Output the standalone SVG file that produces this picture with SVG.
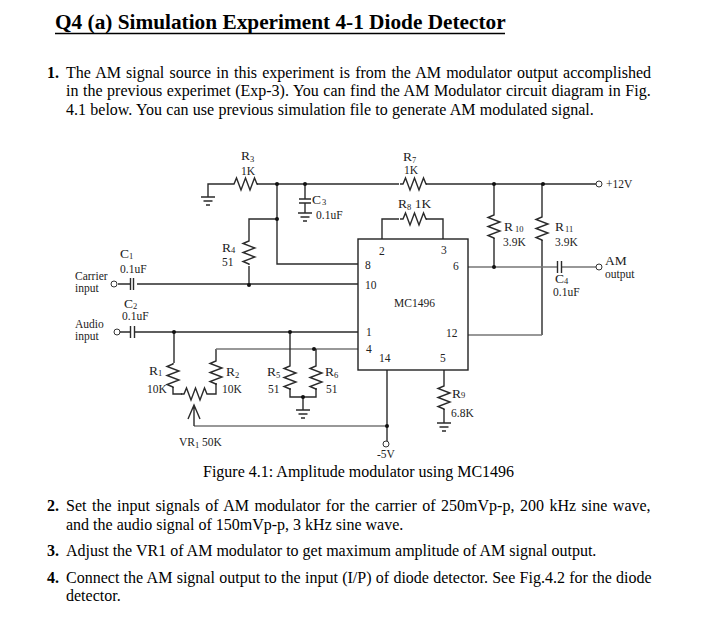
<svg xmlns="http://www.w3.org/2000/svg" width="707" height="640" viewBox="0 0 707 640">
<style>
text{font-family:"Liberation Serif","Times New Roman",serif;fill:#222}
.b{font-size:16px;fill:#000}
.t{font-size:21.3px;font-weight:bold;fill:#000}
.n{font-weight:bold;font-size:16px;fill:#000}
.l{font-size:13.5px}
.s{font-size:11.5px}
.u{font-size:8.5px}
.w{fill:none;stroke:#2b2b2b;stroke-width:1.4}
.g{fill:none;stroke:#777;stroke-width:1.4}
.d{fill:#111;stroke:none}
.o{fill:#fff;stroke:#333;stroke-width:1}
</style>
<defs>
<path id="rh" class="w" d="M0 0h3l2.500-6 4.500 12 4.500-12 4.500 12 4.500-12 2.500 6h1"/>
<path id="rv" class="w" d="M0 0v1l-6 2.500 12 4.500-12 4.500 12 4.500-12 4.500 6 2.500v1"/>
<g id="gnd"><path class="w" d="M-7 0h14M-4.500 4h9M-2 8h4"/></g>
</defs>
<text class="t" x="55" y="29">Q4 (a) Simulation Experiment 4-1 Diode Detector</text>
<path d="M55 33.500H505" stroke="#000" stroke-width="1.500"/>
<g id="body-text">
<text class="n" x="47" y="78">1.</text>
<text class="b" x="66" y="78" word-spacing="1.15">The AM signal source in this experiment is from the AM modulator output accomplished</text>
<text class="b" x="66" y="96" word-spacing="0.53">in the previous experimet (Exp-3). You can find the AM Modulator circuit diagram in Fig.</text>
<text class="b" x="66" y="115" word-spacing="0.3">4.1 below. You can use previous simulation file to generate AM modulated signal.</text>
<text class="b" x="203" y="477">Figure 4.1: Amplitude modulator using MC1496</text>
<text class="n" x="47" y="511">2.</text>
<text class="b" x="66" y="511" word-spacing="1.5">Set the input signals of AM modulator for the carrier of 250mVp-p, 200 kHz sine wave,</text>
<text class="b" x="66" y="530">and the audio signal of 150mVp-p, 3 kHz sine wave.</text>
<text class="n" x="47" y="556">3.</text>
<text class="b" x="66" y="556">Adjust the VR1 of AM modulator to get maximum amplitude of AM signal output.</text>
<text class="n" x="47" y="583">4.</text>
<text class="b" x="66" y="583" word-spacing="0.3">Connect the AM signal output to the input (I/P) of diode detector. See Fig.4.2 for the diode</text>
<text class="b" x="66" y="601">detector.</text>
</g>
<g id="connectors">
<path class="w" d="M208 197V184H231M257 184H399M426 184H596"/>
<path class="w" d="M277 184V264H358M277 219H249V240M249 266V284M137 284H358"/>
<path class="w" d="M305 184V199M305 203V213"/>
<path class="w" d="M118 284H130M118 332H130M135 332H358M174 332V363M173 387V394H182M208 394H216V383M216 360V349"/>
<path class="g" d="M216 349H358M194 426H387"/>
<path class="w" d="M290 332V365M290 388V397H316V388M316 365V349M303 397V410"/>
<path class="w" d="M382 239V219H399M426 219H443V239"/>
<path class="w" d="M494 184V214M494 238V267M542 184V216M542 240V335"/>
<path class="g" d="M468 267H557M561 267H596M468 335H542"/>
<path class="w" d="M387 370V441M444 370V385M444 409V423"/>
<path class="w" d="M194 426V405M188 419L194 405L200 419"/>
<circle class="d" cx="277" cy="184" r="2"/><circle class="d" cx="305" cy="184" r="2"/>
<circle class="d" cx="277" cy="219" r="2"/><circle class="d" cx="249" cy="285" r="2"/>
<circle class="d" cx="174" cy="332" r="2"/><circle class="d" cx="290" cy="332" r="2"/>
<circle class="d" cx="314" cy="349" r="2"/><circle class="d" cx="303" cy="397" r="2"/>
<circle class="d" cx="494" cy="184" r="2"/><circle class="d" cx="543" cy="184" r="2"/>
<circle class="d" cx="494" cy="267" r="2"/><circle class="d" cx="387" cy="426" r="2"/>
</g>
<g id="ic-mc1496">
<rect x="358" y="239" width="110" height="131" fill="none" stroke="#222" stroke-width="1.400"/>
<text class="s" x="379" y="255">2</text><text class="s" x="441" y="254">3</text>
<text class="s" x="365" y="269">8</text><text class="s" x="453" y="270">6</text>
<text class="s" x="365" y="289">10</text>
<text class="s" x="394" y="307">MC1496</text>
<text class="s" x="366" y="336">1</text><text class="s" x="446" y="337">12</text>
<text class="s" x="366" y="353">4</text><text class="s" x="379" y="362">14</text><text class="s" x="440" y="362">5</text>
</g>
<g id="R3"><use href="#rh" x="231" y="184"/><text class="l" x="241" y="160">R<tspan class="u" dy="2">3</tspan></text><text class="s" x="241" y="175">1K</text></g>
<g id="R7"><use href="#rh" x="400" y="184"/><text class="l" x="403" y="161">R<tspan class="u" dy="2">7</tspan></text><text class="s" x="404" y="174">1K</text></g>
<g id="R8"><use href="#rh" x="400" y="219"/><text class="l" x="398" y="208">R<tspan class="u" dy="2">8</tspan><tspan dy="-2"> 1K</tspan></text></g>
<g id="R4"><use href="#rv" x="249" y="240"/><text class="l" x="222" y="252">R<tspan class="u" dy="1">4</tspan></text><text class="s" x="222" y="266">51</text></g>
<g id="R10"><use href="#rv" x="494" y="214"/><text class="l" x="504" y="231">R<tspan class="u" dx="2" dy="1">10</tspan></text><text class="s" x="503" y="246">3.9K</text></g>
<g id="R11"><use href="#rv" x="542" y="216"/><text class="l" x="555" y="231">R<tspan class="u" dx="1" dy="1">11</tspan></text><text class="s" x="555" y="246">3.9K</text></g>
<g id="R1"><use href="#rv" x="173" y="363"/><text class="l" x="149" y="375">R<tspan class="u" dy="1">1</tspan></text><text class="s" x="147" y="393">10K</text></g>
<g id="R2"><use href="#rv" x="216" y="360"/><text class="l" x="226" y="376">R<tspan class="u" dy="2">2</tspan></text><text class="s" x="222" y="393">10K</text></g>
<g id="R5"><use href="#rv" x="290" y="365"/><text class="l" x="267" y="376">R<tspan class="u" dy="2">5</tspan></text><text class="s" x="268" y="393">51</text></g>
<g id="R6"><use href="#rv" x="316" y="365"/><text class="l" x="325" y="376">R<tspan class="u" dy="2">6</tspan></text><text class="s" x="326" y="393">51</text></g>
<g id="R9"><use href="#rv" x="444" y="385"/><text class="l" x="452" y="398">R<tspan class="u" dy="0">9</tspan></text><text class="s" x="451" y="417">6.8K</text></g>
<g id="VR1"><use href="#rh" x="181" y="394"/><text class="s" x="179" y="446">VR<tspan class="u" dy="2">1</tspan><tspan dy="-2"> 50K</tspan></text></g>
<g id="C1"><path class="w" d="M130.500 278V290M133.500 278V290"/><text class="l" x="120" y="258">C<tspan class="u" dy="1">1</tspan></text><text class="s" x="120" y="273">0.1uF</text></g>
<g id="C2"><path class="w" d="M130.500 326V338M134.500 326V338"/><text class="l" x="124" y="308">C<tspan class="u" dy="1">2</tspan></text><text class="s" x="122" y="320">0.1uF</text></g>
<g id="C3"><path class="w" d="M299 199H311M299 203H311"/><text class="l" x="312" y="204">C<tspan class="u" dx="1" dy="1">3</tspan></text><text class="s" x="316" y="219">0.1uF</text></g>
<g id="C4"><path class="w" d="M557.500 261V273M561.500 261V273"/><text class="l" x="555" y="283">C<tspan class="u" dy="1">4</tspan></text><text class="s" x="553" y="296">0.1uF</text></g>
<g id="G1"><use href="#gnd" x="208" y="197"/></g>
<g id="G2"><use href="#gnd" x="305" y="213"/></g>
<g id="G3"><use href="#gnd" x="303" y="410"/></g>
<g id="G4"><use href="#gnd" x="444" y="423"/></g>
<g id="carrier-input"><circle class="o" cx="114" cy="284" r="3"/><text class="s" x="75" y="280">Carrier</text><text class="s" x="75" y="292">input</text></g>
<g id="audio-input"><circle class="o" cx="117" cy="332" r="3"/><text class="s" x="75" y="328">Audio</text><text class="s" x="75" y="340">input</text></g>
<g id="vcc"><circle class="o" cx="599" cy="184" r="3"/><text class="s" x="606" y="188">+12V</text></g>
<g id="am-output"><circle class="o" cx="599" cy="267" r="3"/><text class="l" x="605" y="265">AM</text><text class="s" x="605" y="278">output</text></g>
<g id="vee"><circle class="o" cx="386" cy="444" r="3"/><text class="s" x="377" y="458">-5V</text></g>
</svg>
